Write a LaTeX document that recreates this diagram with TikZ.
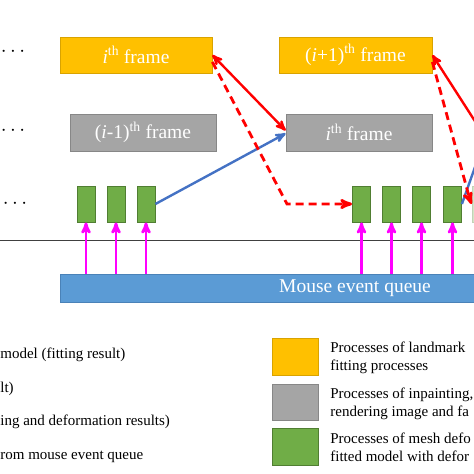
\documentclass[tikz,border=0pt]{standalone}
\usepackage{fontspec}
\setmainfont{Liberation Serif}
\usepackage{tikz}
\usetikzlibrary{arrows,positioning}
\definecolor{gold}{HTML}{FFC000}
\definecolor{golddark}{HTML}{D9A300}
\definecolor{grayfill}{HTML}{A5A5A5}
\definecolor{grayline}{HTML}{878787}
\definecolor{meshgreen}{HTML}{70AD47}
\definecolor{meshline}{HTML}{507E32}
\definecolor{queueblue}{HTML}{5B9BD5}
\definecolor{queueline}{HTML}{4A82B8}
\definecolor{linkblue}{HTML}{4472C4}
\definecolor{eventpink}{RGB}{255,0,255}
\definecolor{fitred}{RGB}{255,0,0}

\begin{document}
\begin{tikzpicture}[x=1pt,y=-1pt,>=stealth',thick,
base box/.style={draw,line width=0.8pt,inner sep=0pt,text=white,font=\fontsize{19.5}{23}\selectfont},
land node/.style={base box,fill=gold,draw=golddark,minimum height=36pt},
paint node/.style={base box,fill=grayfill,draw=grayline,minimum height=37pt,minimum width=146pt},
mesh node/.style={base box,fill=meshgreen,draw=meshline,minimum width=18pt,minimum height=36pt},
key box/.style={draw,line width=0.8pt,minimum width=46pt,minimum height=37pt},
key text/.style={font=\fontsize{15}{18}\selectfont,align=left,anchor=west,inner sep=0pt},
dots node/.style={font=\fontsize{22}{24}\selectfont,inner sep=0pt},
fit line/.style={fitred,line width=2.4pt},
fit dash/.style={fitred,line width=2.8pt,dash pattern=on 8pt off 5pt},
mesh link/.style={linkblue,line width=2.4pt},
event arrow/.style={->,eventpink,line width=2.6pt}]

\clip (0,0) rectangle (474,474);

% dots on the left
\node[dots node] (d1) at (13,52) {$\cdots$};
\node[dots node] (d2) at (13,131) {$\cdots$};
\node[dots node] (d3) at (15,204) {$\cdots$};

% frames
\node[land node,minimum width=152pt] (l1) at (136,55) {\textit{i}\textsuperscript{th} frame};
\node[land node,minimum width=153pt] (l2) at (355.5,55) {(\textit{i}+1)\textsuperscript{th} frame};
\node[paint node] (p0) at (143,132.5) {(\textit{i}-1)\textsuperscript{th} frame};
\node[paint node] (p1) at (359,132.5) {\textit{i}\textsuperscript{th} frame};

% mesh deformation steps
\foreach \n/\x in {1/86,2/116,3/146,4/361.5,5/391.5,6/421.5,7/452.5}
  \node[mesh node] (m\n) at (\x,204) {};
\node[mesh node,fill=meshgreen!30,draw=meshline!35] (m8) at (481,204) {};

% time line and event queue
\draw[black!75,line width=0.8pt] (0,240) -- (474,240);
\node[base box,fill=queueblue,draw=queueline,minimum height=28pt,minimum width=590pt] (q) at (355,288) {Mouse event queue};
\foreach \n in {1,...,7}
  \draw[event arrow] (m\n |- q.north) -- (m\n.south);

\coordinate (c1) at (287,204);
\coordinate (c2) at (470,200);
\coordinate (r1) at (480,129);
\coordinate (b2) at (480,153);

\path[fit line]
(l1.east) edge[<->] ([yshift=2pt]p1.west)
(l2.east) edge[<-] (r1);
\path[mesh link]
(m3.east) edge[->] ([yshift=-1pt]p1.west)
(m7.east) edge (b2);
\draw[fit dash,->] ([yshift=-7pt]l1.east) -- (c1) -- (m4.west);
\draw[fit dash,->] ([yshift=-7pt]l2.east) -- (c2) -- (m8.west);

% legend
\node[key text] (s1) at (0,355) {model (fitting result)};
\node[key text] (s2) at (0,389) {lt)};
\node[key text] (s3) at (0,422) {ing and deformation results)};
\node[key text] (s4) at (0,457) {rom mouse event queue};

\node[key box,fill=gold,draw=golddark] (k1) at (295,357) {};
\node[key box,fill=grayfill,draw=grayline,minimum height=36pt] (k2) at (295,402) {};
\node[key box,fill=meshgreen,draw=meshline] (k3) at (295,446.5) {};
\node[key text] (t1) at (330,358) {Processes of landmark\\fitting processes};
\node[key text] (t2) at (330,404) {Processes of inpainting,\\rendering image and fa};
\node[key text] (t3) at (330,447) {Processes of mesh defo\\fitted model with defor};
\end{tikzpicture}
\end{document}
